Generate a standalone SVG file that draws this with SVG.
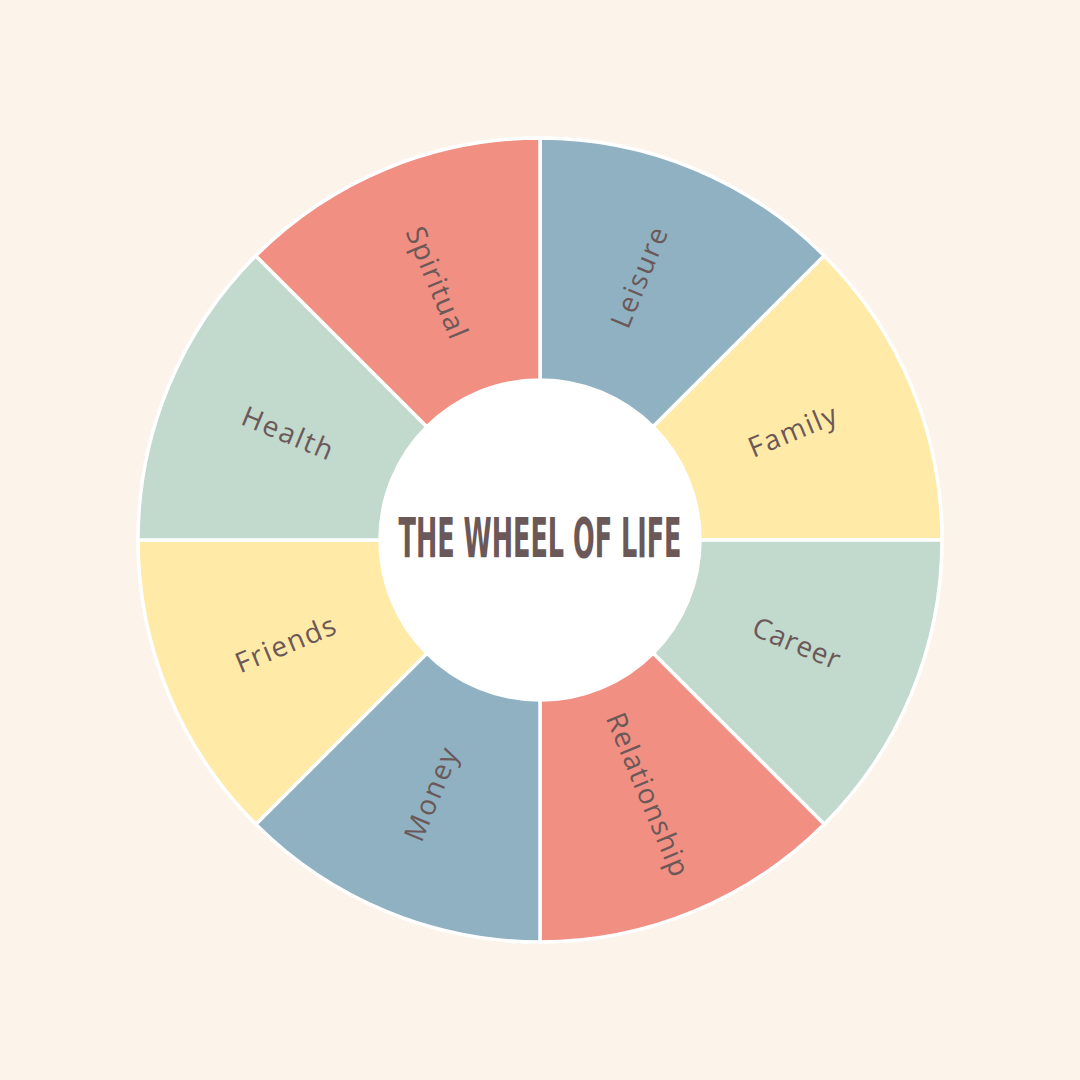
<svg xmlns="http://www.w3.org/2000/svg" width="1080" height="1080" viewBox="0 0 1080 1080">
<style>
.seg{stroke:#ffffff;stroke-width:3.5;stroke-linejoin:miter}
.blue{fill:#8FB1C2}.yellow{fill:#FFEAA7}.green{fill:#C2D9CD}.red{fill:#F18F83}
.lbl{font-family:"Open Sans","Noto Sans",sans-serif;font-size:28px;fill:#6B5858;text-anchor:middle;dominant-baseline:central}
.title{font-family:"DejaVu Sans Condensed","DejaVu Sans",sans-serif;font-weight:bold;font-size:55px;fill:#6B5858;text-anchor:middle}
</style>
<rect width="1080" height="1080" fill="#FCF3EB"/>
<circle cx="540" cy="540" r="403.5" fill="#ffffff"/>
<g id="leisure"><path class="seg blue" d="M540 138 A402 402 0 0 1 824.26 255.74 L653.14 426.86 A160 160 0 0 0 540 380 Z"/><text class="lbl" transform="translate(638 277) rotate(-67.5)" textLength="106">Leisure</text></g>
<g id="family"><path class="seg yellow" d="M824.26 255.74 A402 402 0 0 1 942 540 L700 540 A160 160 0 0 0 653.14 426.86 Z"/><text class="lbl" transform="translate(792 430) rotate(-22.5)" textLength="93">Family</text></g>
<g id="career"><path class="seg green" d="M942 540 A402 402 0 0 1 824.26 824.26 L653.14 653.14 A160 160 0 0 0 700 540 Z"/><text class="lbl" transform="translate(797 642) rotate(22.5)" textLength="92">Career</text></g>
<g id="relationship"><path class="seg red" d="M824.26 824.26 A402 402 0 0 1 540 942 L540 700 A160 160 0 0 0 653.14 653.14 Z"/><text class="lbl" transform="translate(649 794) rotate(67.5)" textLength="174">Relationship</text></g>
<g id="money"><path class="seg blue" d="M540 942 A402 402 0 0 1 255.74 824.26 L426.86 653.14 A160 160 0 0 0 540 700 Z"/><text class="lbl" transform="translate(430 794) rotate(-67.5)" textLength="98">Money</text></g>
<g id="friends"><path class="seg yellow" d="M255.74 824.26 A402 402 0 0 1 138 540 L380 540 A160 160 0 0 0 426.86 653.14 Z"/><text class="lbl" transform="translate(285 643) rotate(-22.5)" textLength="106">Friends</text></g>
<g id="health"><path class="seg green" d="M138 540 A402 402 0 0 1 255.74 255.74 L426.86 426.86 A160 160 0 0 0 380 540 Z"/><text class="lbl" transform="translate(288 432) rotate(22.5)" textLength="96">Health</text></g>
<g id="spiritual"><path class="seg red" d="M255.74 255.74 A402 402 0 0 1 540 138 L540 380 A160 160 0 0 0 426.86 426.86 Z"/><text class="lbl" transform="translate(438 282) rotate(67.5)" textLength="118">Spiritual</text></g>
<g id="center"><circle cx="540" cy="540" r="160" fill="#ffffff"/><text class="title" x="540" y="557" textLength="283" lengthAdjust="spacingAndGlyphs">THE WHEEL OF LIFE</text></g>
</svg>
